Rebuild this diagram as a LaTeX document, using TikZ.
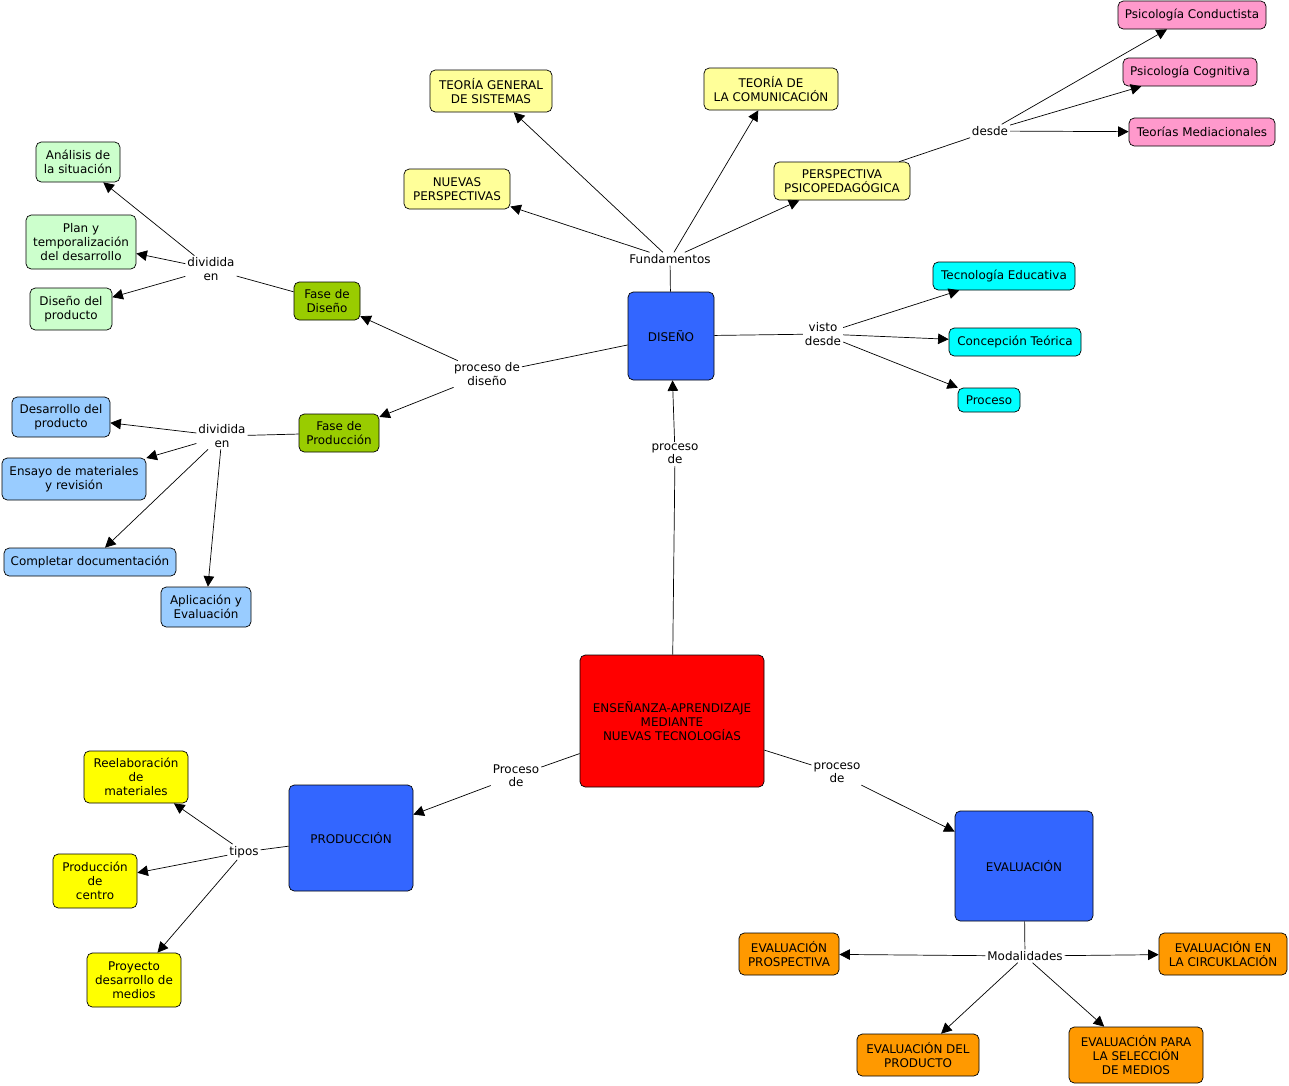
\documentclass[tikz,border=0pt]{standalone}
\usepackage{fontspec}
\setmainfont{DejaVu Sans}
\usetikzlibrary{arrows.meta}
\definecolor{amarillo}{HTML}{FFFF99}
\definecolor{amarillof}{HTML}{FFFF00}
\definecolor{rosa}{HTML}{FF99CC}
\definecolor{cian}{HTML}{00FFFF}
\definecolor{verdec}{HTML}{CCFFCC}
\definecolor{verde}{HTML}{99CC00}
\definecolor{celeste}{HTML}{99CCFF}
\definecolor{azul}{HTML}{3366FF}
\definecolor{naranja}{HTML}{FF9900}
\tikzset{
  concepto/.style n args={3}{draw, rounded corners=3pt, fill=#1, align=center,
    font=\fontsize{6.8}{8}\selectfont, inner sep=1pt,
    minimum width=#2*0.02cm, minimum height=#3*0.02cm},
  enlace/.style={fill=white, align=center, inner sep=1pt,
    font=\fontsize{6.8}{7.5}\selectfont},
  flecha/.style={-{Triangle[length=6pt,width=6pt]}},
}
\begin{document}
\begin{tikzpicture}[x=0.02cm,y=-0.02cm]
  \useasboundingbox (0,0) rectangle (1289,1086);
  % conceptos
  \node[concepto={amarillo}{122}{42}] (tgs) at (491,91) {TEORÍA GENERAL\\DE SISTEMAS};
  \node[concepto={amarillo}{134}{42}] (tc) at (771,89) {TEORÍA DE\\LA COMUNICACIÓN};
  \node[concepto={amarillo}{106}{40}] (np) at (457,189) {NUEVAS\\PERSPECTIVAS};
  \node[concepto={amarillo}{136}{38}] (pp) at (842,181) {PERSPECTIVA\\PSICOPEDAGÓGICA};
  \node[concepto={rosa}{148}{28}] (pcond) at (1192,15) {Psicología Conductista};
  \node[concepto={rosa}{134}{28}] (pcog) at (1190,72) {Psicología Cognitiva};
  \node[concepto={rosa}{146}{28}] (tm) at (1202,132) {Teorías Mediacionales};
  \node[concepto={azul}{86}{88}] (diseno) at (671,336) {DISEÑO};
  \node[concepto={cian}{142}{28}] (te) at (1004,276) {Tecnología Educativa};
  \node[concepto={cian}{132}{28}] (ct) at (1015,342) {Concepción Teórica};
  \node[concepto={cian}{62}{24}] (proc) at (989,400) {Proceso};
  \node[concepto={verdec}{84}{40}] (as) at (78,162) {Análisis de\\la situación};
  \node[concepto={verdec}{110}{54}] (pt) at (81,242) {Plan y\\temporalización\\del desarrollo};
  \node[concepto={verdec}{82}{42}] (dp) at (71,309) {Diseño del\\producto};
  \node[concepto={verde}{66}{38}] (fd) at (327,301) {Fase de\\Diseño};
  \node[concepto={verde}{80}{38}] (fp) at (339,433) {Fase de\\Producción};
  \node[concepto={celeste}{98}{40}] (desp) at (61,417) {Desarrollo del\\producto};
  \node[concepto={celeste}{144}{42}] (em) at (74,479) {Ensayo de materiales\\y revisión};
  \node[concepto={celeste}{172}{28}] (cd) at (90,562) {Completar documentación};
  \node[concepto={celeste}{90}{40}] (ae) at (206,607) {Aplicación y\\Evaluación};
  \node[concepto={red}{184}{132}] (eam) at (672,721) {ENSEÑANZA-APRENDIZAJE\\MEDIANTE\\NUEVAS TECNOLOGÍAS};
  \node[concepto={azul}{124}{106}] (prod) at (351,838) {PRODUCCIÓN};
  \node[concepto={amarillof}{104}{52}] (rm) at (136,777) {Reelaboración\\de\\materiales};
  \node[concepto={amarillof}{84}{54}] (pc) at (95,881) {Producción\\de\\centro};
  \node[concepto={amarillof}{94}{54}] (pdm) at (134,980) {Proyecto\\desarrollo de\\medios};
  \node[concepto={azul}{138}{110}] (eval) at (1024,866) {EVALUACIÓN};
  \node[concepto={naranja}{100}{42}] (ep) at (789,954) {EVALUACIÓN\\PROSPECTIVA};
  \node[concepto={naranja}{128}{42}] (ec) at (1223,954) {EVALUACIÓN EN\\LA CIRCUKLACIÓN};
  \node[concepto={naranja}{122}{42}] (edp) at (918,1055) {EVALUACIÓN DEL\\PRODUCTO};
  \node[concepto={naranja}{134}{56}] (es) at (1136,1055) {EVALUACIÓN PARA\\LA SELECCIÓN\\DE MEDIOS};
  % enlaces
  \node[enlace] (fund) at (670,259) {Fundamentos};
  \node[enlace] (desde) at (990,131) {desde};
  \node[enlace] (visto) at (823,334) {visto\\desde};
  \node[enlace] (pdis) at (487,374) {proceso de\\diseño};
  \node[enlace] (div1) at (211,269) {dividida\\en};
  \node[enlace] (div2) at (222,436) {dividida\\en};
  \node[enlace] (pde1) at (675,454) {proceso\\de};
  \node[enlace] (pde2) at (516,776) {Proceso\\de};
  \node[enlace] (pde3) at (837,773) {proceso\\de};
  \node[enlace] (tipos) at (244,852) {tipos};
  \node[enlace] (moda) at (1025,956) {Modalidades};
  % conectores
  \draw (diseno) -- (fund);
  \foreach \d in {np,tgs,tc,pp} \draw[flecha] (fund) -- (\d);
  \draw (pp) -- (desde);
  \foreach \d in {pcond,pcog,tm} \draw[flecha] (desde) -- (\d);
  \draw (diseno) -- (visto);
  \foreach \d in {te,ct,proc} \draw[flecha] (visto) -- (\d);
  \draw (diseno) -- (pdis);
  \foreach \d in {fd,fp} \draw[flecha] (pdis) -- (\d);
  \draw (fd) -- (div1);
  \foreach \d in {as,pt,dp} \draw[flecha] (div1) -- (\d);
  \draw (fp) -- (div2);
  \foreach \d in {desp,em,cd,ae} \draw[flecha] (div2) -- (\d);
  \draw (eam) -- (pde1);
  \draw[flecha] (pde1) -- (diseno);
  \draw (eam) -- (pde2);
  \draw[flecha] (pde2) -- (prod);
  \draw (prod) -- (tipos);
  \foreach \d in {rm,pc,pdm} \draw[flecha] (tipos) -- (\d);
  \draw (eam) -- (pde3);
  \draw[flecha] (pde3) -- (eval);
  \draw (eval) -- (moda);
  \foreach \d in {ep,ec,edp,es} \draw[flecha] (moda) -- (\d);
\end{tikzpicture}
\end{document}
